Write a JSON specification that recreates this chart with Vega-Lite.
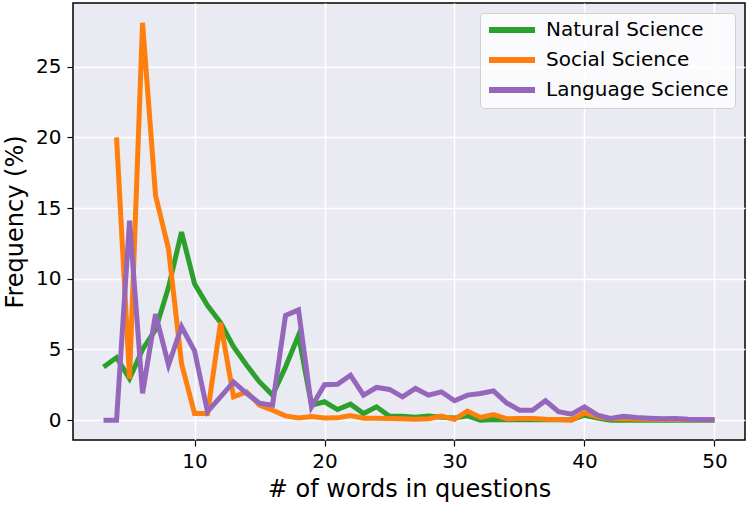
{
  "$schema": "https://vega.github.io/schema/vega-lite/v6.json",
  "width": 672,
  "height": 437,
  "autosize": {"type": "none"},
  "padding": {"left": 73, "top": 3, "right": 2, "bottom": 66},
  "background": "white",
  "data": {
    "values": [
      {"words": 3, "category": "Natural Science", "freq": 3.76},
      {"words": 4, "category": "Natural Science", "freq": 4.43},
      {"words": 5, "category": "Natural Science", "freq": 2.94},
      {"words": 6, "category": "Natural Science", "freq": 5.0},
      {"words": 7, "category": "Natural Science", "freq": 6.4},
      {"words": 8, "category": "Natural Science", "freq": 9.4},
      {"words": 9, "category": "Natural Science", "freq": 13.3},
      {"words": 10, "category": "Natural Science", "freq": 9.65},
      {"words": 11, "category": "Natural Science", "freq": 8.1},
      {"words": 12, "category": "Natural Science", "freq": 6.9},
      {"words": 13, "category": "Natural Science", "freq": 5.2},
      {"words": 14, "category": "Natural Science", "freq": 3.9},
      {"words": 15, "category": "Natural Science", "freq": 2.7},
      {"words": 16, "category": "Natural Science", "freq": 1.77},
      {"words": 17, "category": "Natural Science", "freq": 3.76},
      {"words": 18, "category": "Natural Science", "freq": 6.0},
      {"words": 19, "category": "Natural Science", "freq": 1.06},
      {"words": 20, "category": "Natural Science", "freq": 1.3},
      {"words": 21, "category": "Natural Science", "freq": 0.75},
      {"words": 22, "category": "Natural Science", "freq": 1.13},
      {"words": 23, "category": "Natural Science", "freq": 0.47},
      {"words": 24, "category": "Natural Science", "freq": 0.94},
      {"words": 25, "category": "Natural Science", "freq": 0.28},
      {"words": 26, "category": "Natural Science", "freq": 0.28},
      {"words": 27, "category": "Natural Science", "freq": 0.2},
      {"words": 28, "category": "Natural Science", "freq": 0.3},
      {"words": 29, "category": "Natural Science", "freq": 0.2},
      {"words": 30, "category": "Natural Science", "freq": 0.15},
      {"words": 31, "category": "Natural Science", "freq": 0.3},
      {"words": 32, "category": "Natural Science", "freq": 0.0},
      {"words": 33, "category": "Natural Science", "freq": 0.05},
      {"words": 34, "category": "Natural Science", "freq": 0.02},
      {"words": 35, "category": "Natural Science", "freq": 0.02},
      {"words": 36, "category": "Natural Science", "freq": 0.02},
      {"words": 37, "category": "Natural Science", "freq": 0.02},
      {"words": 38, "category": "Natural Science", "freq": 0.02},
      {"words": 39, "category": "Natural Science", "freq": 0.02},
      {"words": 40, "category": "Natural Science", "freq": 0.35},
      {"words": 41, "category": "Natural Science", "freq": 0.15},
      {"words": 42, "category": "Natural Science", "freq": 0.0},
      {"words": 43, "category": "Natural Science", "freq": 0.0},
      {"words": 44, "category": "Natural Science", "freq": 0.0},
      {"words": 45, "category": "Natural Science", "freq": 0.0},
      {"words": 46, "category": "Natural Science", "freq": 0.0},
      {"words": 47, "category": "Natural Science", "freq": 0.0},
      {"words": 48, "category": "Natural Science", "freq": 0.0},
      {"words": 49, "category": "Natural Science", "freq": 0.0},
      {"words": 50, "category": "Natural Science", "freq": 0.0},
      {"words": 4, "category": "Social Science", "freq": 20.0},
      {"words": 5, "category": "Social Science", "freq": 2.94},
      {"words": 6, "category": "Social Science", "freq": 28.1},
      {"words": 7, "category": "Social Science", "freq": 15.9},
      {"words": 8, "category": "Social Science", "freq": 12.1},
      {"words": 9, "category": "Social Science", "freq": 4.0},
      {"words": 10, "category": "Social Science", "freq": 0.47},
      {"words": 11, "category": "Social Science", "freq": 0.47},
      {"words": 12, "category": "Social Science", "freq": 6.9},
      {"words": 13, "category": "Social Science", "freq": 1.65},
      {"words": 14, "category": "Social Science", "freq": 2.0},
      {"words": 15, "category": "Social Science", "freq": 1.06},
      {"words": 16, "category": "Social Science", "freq": 0.7},
      {"words": 17, "category": "Social Science", "freq": 0.3},
      {"words": 18, "category": "Social Science", "freq": 0.15},
      {"words": 19, "category": "Social Science", "freq": 0.26},
      {"words": 20, "category": "Social Science", "freq": 0.15},
      {"words": 21, "category": "Social Science", "freq": 0.16},
      {"words": 22, "category": "Social Science", "freq": 0.33},
      {"words": 23, "category": "Social Science", "freq": 0.14},
      {"words": 24, "category": "Social Science", "freq": 0.14},
      {"words": 25, "category": "Social Science", "freq": 0.12},
      {"words": 26, "category": "Social Science", "freq": 0.1},
      {"words": 27, "category": "Social Science", "freq": 0.07},
      {"words": 28, "category": "Social Science", "freq": 0.1},
      {"words": 29, "category": "Social Science", "freq": 0.28},
      {"words": 30, "category": "Social Science", "freq": 0.05},
      {"words": 31, "category": "Social Science", "freq": 0.64},
      {"words": 32, "category": "Social Science", "freq": 0.19},
      {"words": 33, "category": "Social Science", "freq": 0.4},
      {"words": 34, "category": "Social Science", "freq": 0.1},
      {"words": 35, "category": "Social Science", "freq": 0.12},
      {"words": 36, "category": "Social Science", "freq": 0.12},
      {"words": 37, "category": "Social Science", "freq": 0.07},
      {"words": 38, "category": "Social Science", "freq": 0.05},
      {"words": 39, "category": "Social Science", "freq": 0.0},
      {"words": 40, "category": "Social Science", "freq": 0.52},
      {"words": 41, "category": "Social Science", "freq": 0.24},
      {"words": 42, "category": "Social Science", "freq": 0.1},
      {"words": 43, "category": "Social Science", "freq": 0.1},
      {"words": 44, "category": "Social Science", "freq": 0.08},
      {"words": 45, "category": "Social Science", "freq": 0.06},
      {"words": 46, "category": "Social Science", "freq": 0.05},
      {"words": 47, "category": "Social Science", "freq": 0.05},
      {"words": 48, "category": "Social Science", "freq": 0.04},
      {"words": 49, "category": "Social Science", "freq": 0.03},
      {"words": 50, "category": "Social Science", "freq": 0.02},
      {"words": 3, "category": "Language Science", "freq": 0.0},
      {"words": 4, "category": "Language Science", "freq": 0.0},
      {"words": 5, "category": "Language Science", "freq": 14.1},
      {"words": 6, "category": "Language Science", "freq": 1.9},
      {"words": 7, "category": "Language Science", "freq": 7.5},
      {"words": 8, "category": "Language Science", "freq": 3.9},
      {"words": 9, "category": "Language Science", "freq": 6.6},
      {"words": 10, "category": "Language Science", "freq": 4.9},
      {"words": 11, "category": "Language Science", "freq": 0.6},
      {"words": 12, "category": "Language Science", "freq": 1.65},
      {"words": 13, "category": "Language Science", "freq": 2.7},
      {"words": 14, "category": "Language Science", "freq": 1.9},
      {"words": 15, "category": "Language Science", "freq": 1.2},
      {"words": 16, "category": "Language Science", "freq": 1.06},
      {"words": 17, "category": "Language Science", "freq": 7.4},
      {"words": 18, "category": "Language Science", "freq": 7.8},
      {"words": 19, "category": "Language Science", "freq": 0.94},
      {"words": 20, "category": "Language Science", "freq": 2.5},
      {"words": 21, "category": "Language Science", "freq": 2.54},
      {"words": 22, "category": "Language Science", "freq": 3.18},
      {"words": 23, "category": "Language Science", "freq": 1.77},
      {"words": 24, "category": "Language Science", "freq": 2.31},
      {"words": 25, "category": "Language Science", "freq": 2.17},
      {"words": 26, "category": "Language Science", "freq": 1.65},
      {"words": 27, "category": "Language Science", "freq": 2.24},
      {"words": 28, "category": "Language Science", "freq": 1.77},
      {"words": 29, "category": "Language Science", "freq": 2.0},
      {"words": 30, "category": "Language Science", "freq": 1.37},
      {"words": 31, "category": "Language Science", "freq": 1.77},
      {"words": 32, "category": "Language Science", "freq": 1.88},
      {"words": 33, "category": "Language Science", "freq": 2.07},
      {"words": 34, "category": "Language Science", "freq": 1.22},
      {"words": 35, "category": "Language Science", "freq": 0.7},
      {"words": 36, "category": "Language Science", "freq": 0.7},
      {"words": 37, "category": "Language Science", "freq": 1.37},
      {"words": 38, "category": "Language Science", "freq": 0.6},
      {"words": 39, "category": "Language Science", "freq": 0.42},
      {"words": 40, "category": "Language Science", "freq": 0.94},
      {"words": 41, "category": "Language Science", "freq": 0.35},
      {"words": 42, "category": "Language Science", "freq": 0.12},
      {"words": 43, "category": "Language Science", "freq": 0.28},
      {"words": 44, "category": "Language Science", "freq": 0.19},
      {"words": 45, "category": "Language Science", "freq": 0.14},
      {"words": 46, "category": "Language Science", "freq": 0.1},
      {"words": 47, "category": "Language Science", "freq": 0.12},
      {"words": 48, "category": "Language Science", "freq": 0.07},
      {"words": 49, "category": "Language Science", "freq": 0.05},
      {"words": 50, "category": "Language Science", "freq": 0.02}
    ]
  },
  "mark": {"type": "line", "strokeWidth": 5, "strokeJoin": "miter", "strokeCap": "butt"},
  "encoding": {
    "x": {
      "field": "words",
      "type": "quantitative",
      "title": "# of words in questions",
      "scale": {"domain": [0.65, 52.35], "nice": false, "zero": false},
      "axis": {"values": [10, 20, 30, 40, 50], "labelPadding": 5, "titlePadding": 6}
    },
    "y": {
      "field": "freq",
      "type": "quantitative",
      "title": "Frequency (%)",
      "scale": {"domain": [-1.405, 29.5], "nice": false, "zero": false},
      "axis": {"values": [0, 5, 10, 15, 20, 25], "labelPadding": 6, "titlePadding": 8}
    },
    "color": {
      "field": "category",
      "type": "nominal",
      "sort": ["Natural Science", "Social Science", "Language Science"],
      "scale": {
        "domain": ["Natural Science", "Social Science", "Language Science"],
        "range": ["#2ca02c", "#ff7f0e", "#9467bd"]
      },
      "legend": {
        "title": null,
        "orient": "none",
        "legendX": 407,
        "legendY": 10,
        "symbolType": "M-1,0H4.75",
        "symbolSize": 256,
        "symbolStrokeWidth": 6,
        "symbolFillColor": "transparent",
        "labelOffset": 38,
        "labelFontSize": 20,
        "labelFont": "DejaVu Sans",
        "labelColor": "black",
        "labelLimit": 400,
        "rowPadding": 6,
        "padding": 6,
        "fillColor": "rgba(255,255,255,0.8)",
        "strokeColor": "#d0d0d0",
        "cornerRadius": 4
      }
    }
  },
  "config": {
    "font": "DejaVu Sans",
    "view": {"fill": "#eaeaf2", "stroke": "black", "strokeWidth": 1.5},
    "axis": {
      "domain": false,
      "grid": true,
      "gridColor": "white",
      "gridWidth": 1.5,
      "gridOpacity": 1,
      "ticks": true,
      "tickColor": "black",
      "tickSize": 6,
      "tickWidth": 1.2,
      "labelFontSize": 20,
      "labelColor": "black",
      "titleFontSize": 24,
      "titleFontWeight": "normal",
      "titleColor": "black"
    }
  }
}
